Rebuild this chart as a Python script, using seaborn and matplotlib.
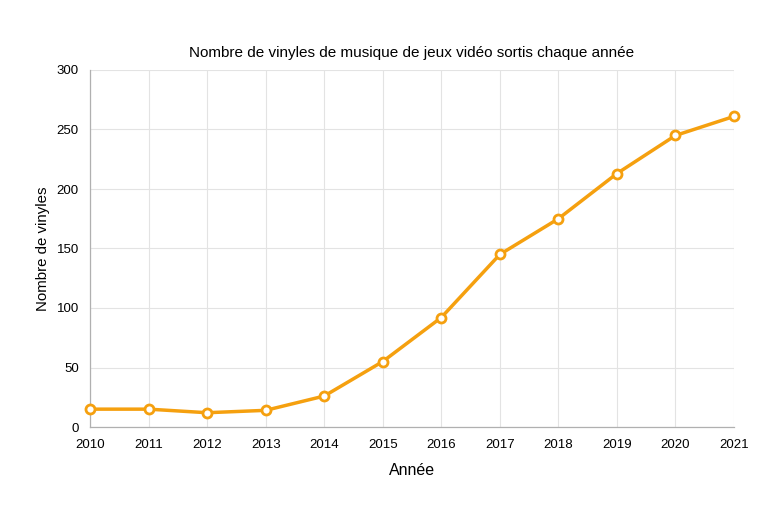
import matplotlib
matplotlib.use("Agg")
import matplotlib.pyplot as plt
import seaborn as sns
import pandas as pd

years = [2010, 2011, 2012, 2013, 2014, 2015, 2016, 2017, 2018, 2019, 2020, 2021]
vinyls = [15, 15, 12, 14, 26, 55, 92, 145, 175, 213, 245, 261]
title = "Nombre de vinyles de musique de jeux vidéo sortis chaque année"
xlabel = "Année"
ylabel = "Nombre de vinyles"

df = pd.DataFrame({"year": years, "vinyls": vinyls})

sns.set_theme(style="whitegrid")
plt.rcParams["font.family"] = ["Liberation Sans", "DejaVu Sans"]

fig = plt.figure(figsize=(7.68, 5.12), dpi=100)
ax = fig.add_axes([90/768, 1-427/512, (734-90)/768, (427-70)/512])

color = "#F5A00F"
sns.lineplot(data=df, x="year", y="vinyls", ax=ax, color=color, linewidth=2.5,
             marker="o", markersize=6.5, markerfacecolor="white",
             markeredgecolor=color, markeredgewidth=2, clip_on=False, zorder=5)

ax.set_xlim(2010, 2021)
ax.set_ylim(0, 300)
ax.set_xticks(years)
ax.set_xticklabels([str(y) for y in years])
ax.set_yticks([0, 50, 100, 150, 200, 250, 300])
ax.tick_params(axis="both", labelsize=9.5, labelcolor="black", length=5, color="#cccccc", pad=3)
ax.tick_params(axis="x", pad=4)
ax.grid(True, color="#e3e3e3", linewidth=0.8)
for s in ["top", "right"]:
    ax.spines[s].set_visible(False)
for s in ["left", "bottom"]:
    ax.spines[s].set_color("#b0b0b0")
    ax.spines[s].set_linewidth(0.9)

ax.set_xlabel(xlabel, fontsize=11.5, labelpad=8, color="black")
ax.set_ylabel(ylabel, fontsize=10.8, labelpad=5, color="black")
ax.set_title(title, fontsize=11, pad=9, color="black")

fig.savefig("out.png", dpi=100)
